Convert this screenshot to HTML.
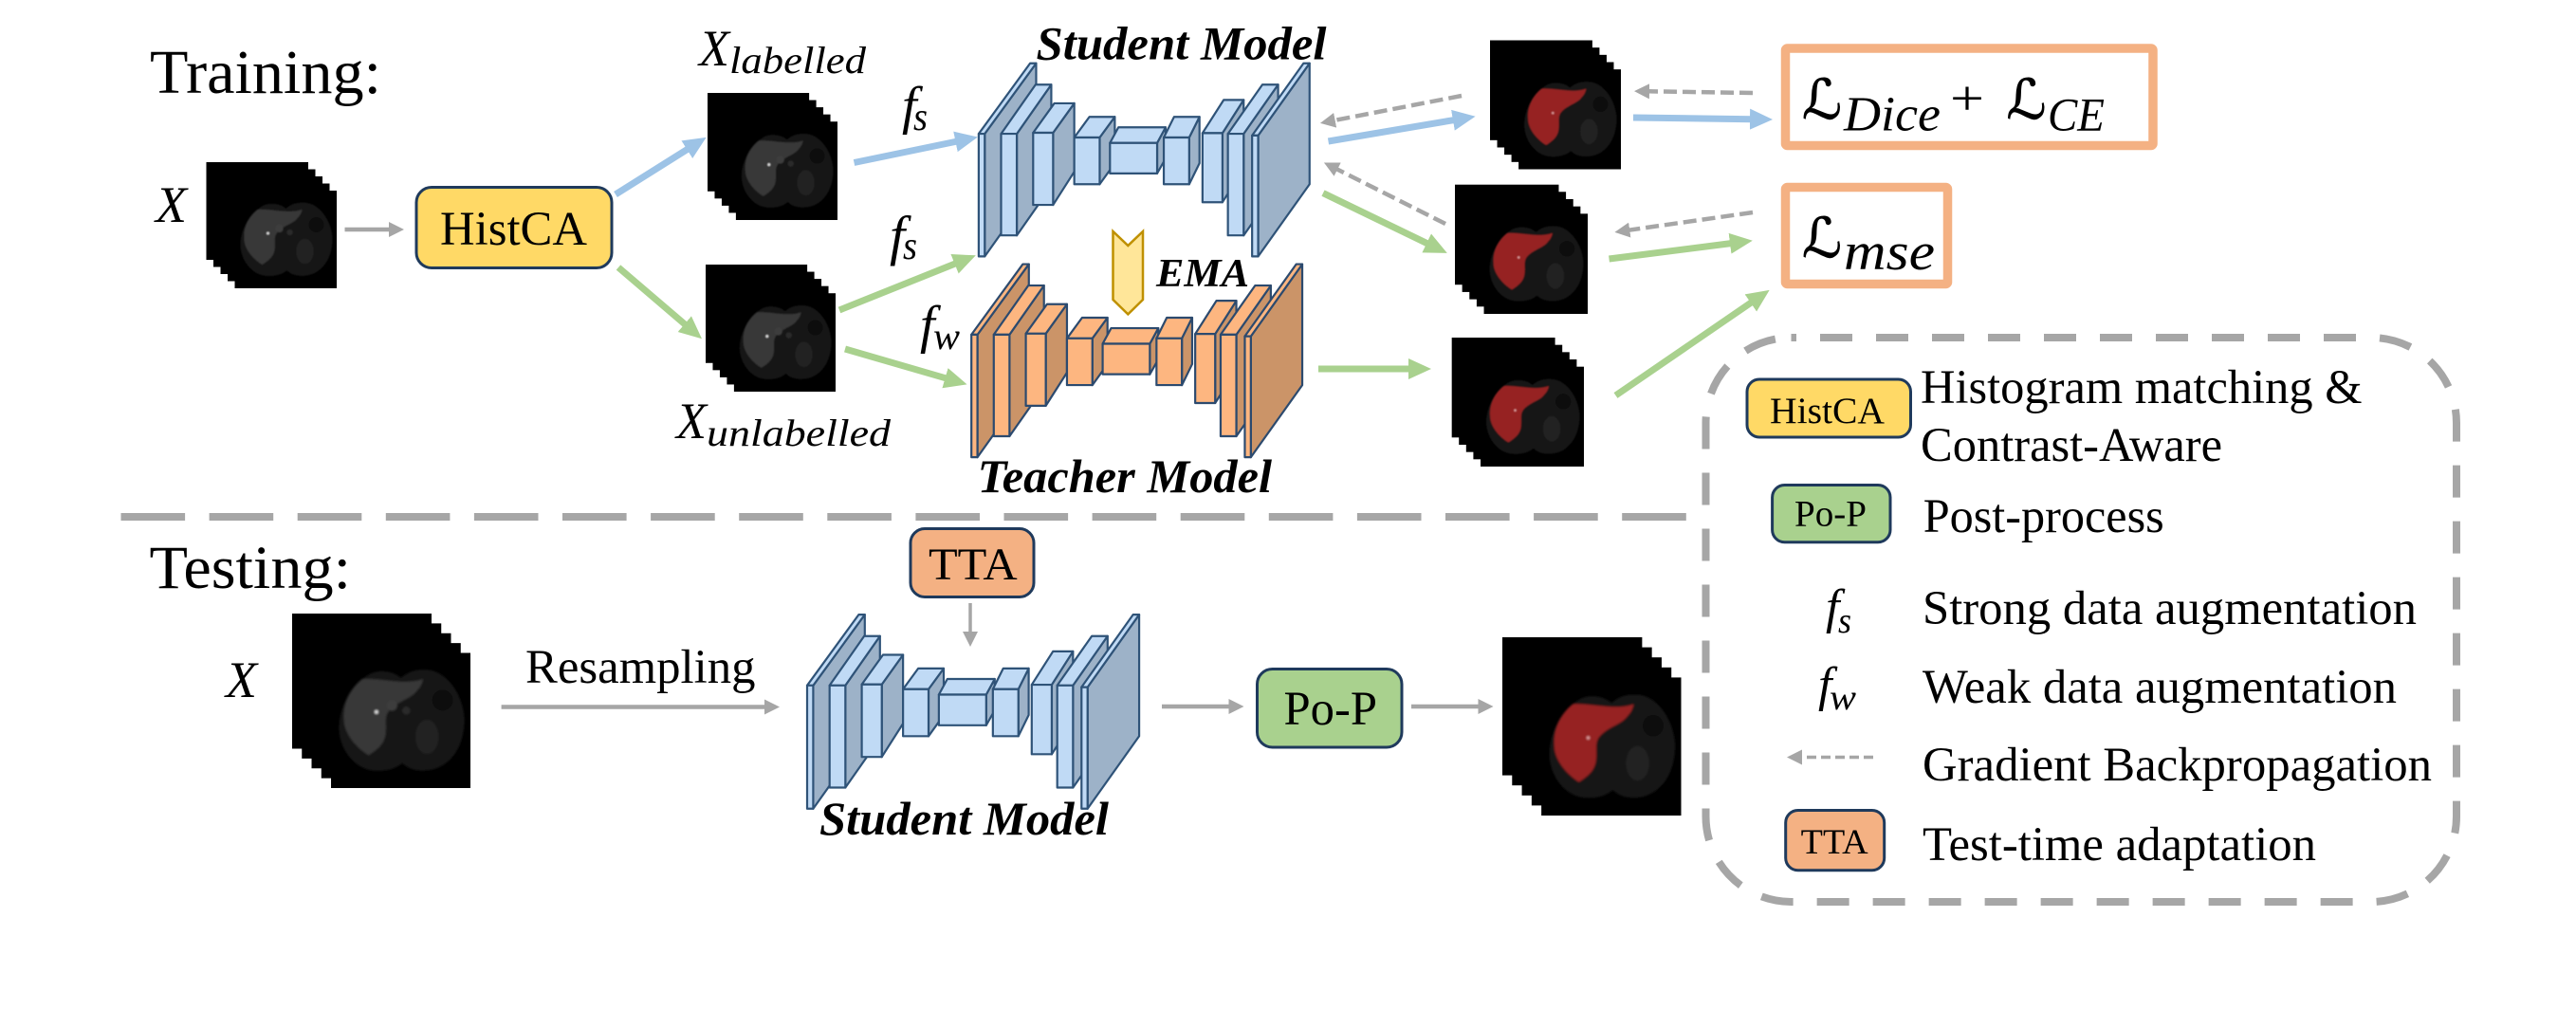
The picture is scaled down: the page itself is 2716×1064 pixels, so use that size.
<!DOCTYPE html>
<html><head><meta charset="utf-8"><style>
html,body{margin:0;padding:0;background:#fff}
svg{display:block}
.t{font-family:"Liberation Serif",serif;fill:#000}
.i{font-style:italic}
.bi{font-style:italic;font-weight:bold}
.L{font-family:"DejaVu Serif","DejaVu Sans",serif;font-style:italic;fill:#000;stroke:#000;stroke-width:.8}
.f{fill:var(--f);stroke:var(--st);stroke-width:2.2;stroke-linejoin:round;vector-effect:non-scaling-stroke}
.s{fill:var(--s);stroke:var(--st);stroke-width:2.2;stroke-linejoin:round;vector-effect:non-scaling-stroke}
.blue{--f:#C0DAF5;--s:#9DB2C8;--st:#2F5378}
.orange{--f:#FDB680;--s:#CB9468;--st:#2C4A6E}
.box{stroke:#1F3A5C;stroke-width:3}
.ab{stroke:#9DC3E6;stroke-width:7;fill:none;marker-end:url(#mb)}
.ag{stroke:#A9D18E;stroke-width:7;fill:none;marker-end:url(#mg)}
.gd{stroke:#A6A6A6;stroke-width:4.5;stroke-dasharray:14 6;fill:none;marker-end:url(#md)}
.gs{stroke:#A6A6A6;stroke-width:4.5;fill:none;marker-end:url(#ms)}
</style></head><body>
<svg xmlns="http://www.w3.org/2000/svg" width="2716" height="1064" viewBox="0 0 2716 1064">
<defs>
<marker id="mb" markerUnits="userSpaceOnUse" markerWidth="26" markerHeight="24" refX="2" refY="12" orient="auto"><path d="M0 1L24 12L0 23Z" fill="#9DC3E6"/></marker>
<marker id="mg" markerUnits="userSpaceOnUse" markerWidth="26" markerHeight="24" refX="2" refY="12" orient="auto"><path d="M0 1L24 12L0 23Z" fill="#A9D18E"/></marker>
<marker id="md" markerUnits="userSpaceOnUse" markerWidth="18" markerHeight="18" refX="1" refY="9" orient="auto"><path d="M0 1L16 9L0 17Z" fill="#A6A6A6"/></marker>
<marker id="ms" markerUnits="userSpaceOnUse" markerWidth="18" markerHeight="18" refX="1" refY="9" orient="auto"><path d="M0 1L16 9L0 17Z" fill="#A6A6A6"/></marker>
<filter id="b" x="-10%" y="-10%" width="120%" height="120%"><feGaussianBlur stdDeviation="0.8"/></filter>

<g id="layers">
<rect x="0" y="0" width="107.5" height="103" fill="#000"/>
<rect x="7.5" y="7.5" width="107.5" height="103" fill="#000"/>
<rect x="15" y="15" width="107.5" height="103" fill="#000"/>
<rect x="22.5" y="22.5" width="107.5" height="103" fill="#000"/>
<rect x="30" y="30" width="107.5" height="103" fill="#000"/>
</g>
<path id="bodyp" d="M54 19C48 14 38 12 30 16C15 24 6 42 6 58C7 76 20 90 36 90C44 90 50 88 55 84C60 89 68 91 78 89C94 85 103 70 103 50C102 34 92 16 76 13C66 12 60 14 54 19Z"/>
<path id="liverp" d="M71 20C56 25 40 19 24 20C15 27 9 38 10 51C10 61 19 72 29 78C35 74 41 70 42 62C43 54 41 50 44 45C50 37 62 35 66 29C69 26 70 24 71 20Z"/>

<symbol id="sg" viewBox="0 0 137.5 133" preserveAspectRatio="none">
<use href="#layers"/>
<g transform="translate(30,30)" filter="url(#b)">
<use href="#bodyp" fill="#191919"/>
<circle cx="86" cy="36" r="8" fill="#080808"/>
<ellipse cx="74" cy="64" rx="9" ry="13" fill="#242424"/>
<use href="#liverp" fill="#383838"/>
<circle cx="47" cy="40" r="4" fill="#3c3c3c"/>
<circle cx="58" cy="44" r="3" fill="#2c2c2c"/>
<circle cx="35" cy="45" r="1.4" fill="#ddd"/>
</g>
</symbol>
<symbol id="sr" viewBox="0 0 137.5 133" preserveAspectRatio="none">
<use href="#layers"/>
<g transform="translate(30,30)" filter="url(#b)">
<use href="#bodyp" fill="#181818"/>
<circle cx="86" cy="36" r="8" fill="#070707"/>
<ellipse cx="74" cy="64" rx="9" ry="13" fill="#202020"/>
<use href="#liverp" fill="#962222"/>
<circle cx="36" cy="45" r="1.2" fill="#e0a0a0"/>
</g>
</symbol>

<g id="unet">
<polygon class="s" points="60,395 145,187 145,544 60,757"/><polygon class="f" points="50,395 135,187 145,187 60,395"/><polygon class="f" points="50,395 60,395 60,757 50,757"/>
<polygon class="s" points="113,395 170,250 170,550 113,695"/><polygon class="f" points="87,395 144,250 170,250 113,395"/><polygon class="f" points="87,395 113,395 113,695 87,695"/>
<polygon class="s" points="173,392 208,305 208,507 173,605"/><polygon class="f" points="140,392 175,305 208,305 173,392"/><polygon class="f" points="140,392 173,392 173,605 140,605"/>
<polygon class="s" points="250,406 275,345 275,482 250,544"/><polygon class="f" points="208,406 233,345 275,345 250,406"/><polygon class="f" points="208,406 250,406 250,544 208,544"/>
<polygon class="s" points="345,422 359,376 359,468 345,512"/><polygon class="f" points="267,422 281,376 359,376 345,422"/><polygon class="f" points="267,422 345,422 345,512 267,512"/>
<polygon class="s" points="398,406 415,345 415,482 398,544"/><polygon class="f" points="356,406 373,345 415,345 398,406"/><polygon class="f" points="356,406 398,406 398,544 356,544"/>
<polygon class="s" points="453,393 488,295 488,499 453,597"/><polygon class="f" points="420,393 455,295 488,295 453,393"/><polygon class="f" points="420,393 453,393 453,597 420,597"/>
<polygon class="s" points="488,395 545,250 545,550 488,695"/><polygon class="f" points="462,395 519,250 545,250 488,395"/><polygon class="f" points="462,395 488,395 488,695 462,695"/>
<polygon class="s" points="512,400 597,187 597,544 512,757"/><polygon class="f" points="502,400 587,187 597,187 512,400"/><polygon class="f" points="502,400 512,400 512,757 502,757"/>
</g>
</defs>

<rect width="2716" height="1064" fill="#fff"/>

<!-- section labels -->
<text class="t" x="158" y="98" font-size="66" textLength="244" lengthAdjust="spacingAndGlyphs">Training:</text>
<text class="t" x="157.5" y="620" font-size="65" textLength="212.5" lengthAdjust="spacingAndGlyphs">Testing:</text>

<!-- stacks -->
<use href="#sg" x="217.5" y="171" width="137.5" height="133"/>
<use href="#sg" x="746" y="98" width="137" height="134"/>
<use href="#sg" x="744" y="279" width="137" height="134"/>
<use href="#sr" x="1571" y="42.5" width="138" height="136"/>
<use href="#sr" x="1534" y="194.6" width="140" height="136.4"/>
<use href="#sr" x="1530.6" y="356" width="139.4" height="136"/>
<use href="#sg" x="308" y="647" width="188" height="184"/>
<use href="#sr" x="1584" y="672" width="188.5" height="188"/>

<!-- X labels -->
<text class="t i" x="164" y="234" font-size="54" textLength="33" lengthAdjust="spacingAndGlyphs">X</text>
<text class="t i" x="737" y="69" font-size="54" textLength="32" lengthAdjust="spacingAndGlyphs">X</text>
<text class="t i" x="769" y="77" font-size="40" textLength="144" lengthAdjust="spacingAndGlyphs">labelled</text>
<text class="t i" x="713" y="462" font-size="54" textLength="32" lengthAdjust="spacingAndGlyphs">X</text>
<text class="t i" x="745" y="470" font-size="40" textLength="194" lengthAdjust="spacingAndGlyphs">unlabelled</text>
<text class="t i" x="238" y="735" font-size="54" textLength="33" lengthAdjust="spacingAndGlyphs">X</text>

<!-- f labels -->
<text class="t i" x="951" y="130" font-size="56">f</text><text class="t i" x="963" y="137" font-size="42" textLength="15" lengthAdjust="spacingAndGlyphs">s</text>
<text class="t i" x="938" y="268" font-size="58">f</text><text class="t i" x="952" y="273" font-size="42" textLength="15" lengthAdjust="spacingAndGlyphs">s</text>
<text class="t i" x="970" y="361" font-size="56">f</text><text class="t i" x="984" y="368" font-size="40" textLength="28" lengthAdjust="spacingAndGlyphs">w</text>

<!-- boxes -->
<rect class="box" x="439" y="197.5" width="206" height="85" rx="16" fill="#FFD966"/>
<text class="t" x="464" y="258" font-size="51" textLength="155" lengthAdjust="spacingAndGlyphs">HistCA</text>
<rect class="box" x="960" y="557.5" width="130" height="72" rx="15" fill="#F4B183"/>
<text class="t" x="979" y="611" font-size="48" textLength="93.6" lengthAdjust="spacingAndGlyphs">TTA</text>
<rect class="box" x="1325.5" y="705.5" width="152.5" height="82.5" rx="16" fill="#A9D18E"/>
<text class="t" x="1353.5" y="764" font-size="50.5" textLength="98.5" lengthAdjust="spacingAndGlyphs">Po-P</text>
<text class="t" x="554" y="720" font-size="50.5" textLength="242.5" lengthAdjust="spacingAndGlyphs">Resampling</text>

<!-- U-nets -->
<g class="blue"><use href="#unet" transform="translate(1000,0) scale(.63776,.35714)"/></g>
<g class="orange"><use href="#unet" transform="translate(992.3,211.8) scale(.63776,.35714)"/></g>
<g class="blue"><use href="#unet" transform="translate(819,581) scale(.6400,.3590)"/></g>

<text class="t bi" x="1092.5" y="62.5" font-size="50" textLength="306" lengthAdjust="spacingAndGlyphs">Student Model</text>
<text class="t bi" x="1030.6" y="519" font-size="50" textLength="310.4" lengthAdjust="spacingAndGlyphs">Teacher Model</text>
<text class="t bi" x="864" y="880" font-size="50" textLength="305" lengthAdjust="spacingAndGlyphs">Student Model</text>
<text class="t bi" x="1219" y="302" font-size="42" textLength="98" lengthAdjust="spacingAndGlyphs">EMA</text>

<!-- EMA arrow -->
<polygon points="1173.5,244 1189.3,259 1205,244 1205,316 1189.3,331.4 1173.5,316" fill="#FFE699" stroke="#BF9000" stroke-width="2.5"/>

<!-- gray solid arrows -->
<line class="gs" x1="363.5" y1="242" x2="411" y2="242"/>
<line class="gs" x1="528.6" y1="745.5" x2="807" y2="745.5"/>
<line class="gs" x1="1023" y1="636" x2="1023" y2="667" style="stroke-width:3.5"/>
<line class="gs" x1="1225" y1="745" x2="1296.5" y2="745"/>
<line class="gs" x1="1488" y1="745" x2="1559.5" y2="745"/>

<!-- colored arrows -->
<line class="ab" x1="649" y1="205" x2="726" y2="156.6"/>
<line class="ag" x1="652" y1="282" x2="723.3" y2="343"/>
<line class="ab" x1="900.5" y1="171.5" x2="1009.4" y2="149"/>
<line class="ag" x1="885" y1="327" x2="1008.4" y2="277.5"/>
<line class="ag" x1="891" y1="368" x2="998.4" y2="399.2"/>
<line class="ab" x1="1400.5" y1="149" x2="1533.9" y2="126.4"/>
<line class="ag" x1="1395" y1="203.6" x2="1506" y2="257.3"/>
<line class="ag" x1="1390" y1="389" x2="1487" y2="389"/>
<line class="ab" x1="1722" y1="124" x2="1847" y2="125.7"/>
<line class="ag" x1="1696.5" y1="273" x2="1826" y2="256.5"/>
<line class="ag" x1="1703.5" y1="417" x2="1847.5" y2="318.3"/>

<!-- dashed gray arrows -->
<line class="gd" x1="1541" y1="101" x2="1406.7" y2="127"/>
<line class="gd" x1="1524" y1="236" x2="1409.3" y2="178.2"/>
<line class="gd" x1="1848" y1="98" x2="1738" y2="96.3"/>
<line class="gd" x1="1848" y1="224" x2="1717.3" y2="242.7"/>

<!-- loss boxes -->
<rect x="1882.5" y="51" width="387.5" height="102.5" rx="2" fill="#fff" stroke="#F4B183" stroke-width="9.5"/>
<rect x="1882.5" y="197.5" width="171" height="102" rx="2" fill="#fff" stroke="#F4B183" stroke-width="9.5"/>
<text class="L" x="1900" y="125" font-size="58" textLength="42" lengthAdjust="spacingAndGlyphs">ℒ</text>
<text class="t i" x="1944" y="137.5" font-size="52" textLength="102" lengthAdjust="spacingAndGlyphs">Dice</text>
<text class="t" x="2056" y="121" font-size="52" textLength="36" lengthAdjust="spacingAndGlyphs">+</text>
<text class="L" x="2115.5" y="125" font-size="58" textLength="42" lengthAdjust="spacingAndGlyphs">ℒ</text>
<text class="t i" x="2159" y="137.5" font-size="50" textLength="60" lengthAdjust="spacingAndGlyphs">CE</text>
<text class="L" x="1900" y="271" font-size="58" textLength="42" lengthAdjust="spacingAndGlyphs">ℒ</text>
<text class="t i" x="1944" y="284" font-size="56" textLength="96" lengthAdjust="spacingAndGlyphs">mse</text>

<!-- separators -->
<line x1="127.5" y1="545" x2="1778" y2="545" stroke="#A6A6A6" stroke-width="8" stroke-dasharray="67.6 25.5"/>
<rect x="1798.5" y="356" width="791.5" height="595" rx="90" ry="90" fill="none" stroke="#A6A6A6" stroke-width="8" stroke-dasharray="34 25" stroke-dashoffset="-30.5"/>

<!-- legend -->
<rect class="box" x="1842" y="400" width="172.5" height="61" rx="13" fill="#FFD966"/>
<text class="t" x="1866" y="446" font-size="39.6" textLength="121" lengthAdjust="spacingAndGlyphs">HistCA</text>
<rect class="box" x="1868.6" y="511.5" width="124.4" height="60.2" rx="13" fill="#A9D18E"/>
<text class="t" x="1892" y="554.4" font-size="39" textLength="76" lengthAdjust="spacingAndGlyphs">Po-P</text>
<rect class="box" x="1882.7" y="854.5" width="104" height="63.2" rx="13" fill="#F4B183"/>
<text class="t" x="1898.7" y="900" font-size="37" textLength="71" lengthAdjust="spacingAndGlyphs">TTA</text>

<text class="t i" x="1925" y="657" font-size="52">f</text><text class="t i" x="1938" y="667" font-size="38" textLength="14" lengthAdjust="spacingAndGlyphs">s</text>
<text class="t i" x="1917" y="739" font-size="52">f</text><text class="t i" x="1929" y="748" font-size="38" textLength="28" lengthAdjust="spacingAndGlyphs">w</text>
<line class="gs" x1="1975" y1="798.5" x2="1899" y2="798.5" style="stroke-dasharray:10 5;stroke-width:3.5"/>

<text class="t" x="2025" y="425" font-size="50.5" textLength="465.5" lengthAdjust="spacingAndGlyphs">Histogram matching &amp;</text>
<text class="t" x="2025" y="486" font-size="50.5" textLength="318" lengthAdjust="spacingAndGlyphs">Contrast-Aware</text>
<text class="t" x="2027.7" y="561" font-size="50.5" textLength="254" lengthAdjust="spacingAndGlyphs">Post-process</text>
<text class="t" x="2027" y="658" font-size="50.5" textLength="521" lengthAdjust="spacingAndGlyphs">Strong data augmentation</text>
<text class="t" x="2027" y="741" font-size="50.5" textLength="500" lengthAdjust="spacingAndGlyphs">Weak data augmentation</text>
<text class="t" x="2027" y="823" font-size="50.5" textLength="537" lengthAdjust="spacingAndGlyphs">Gradient Backpropagation</text>
<text class="t" x="2027" y="907" font-size="50.5" textLength="415" lengthAdjust="spacingAndGlyphs">Test-time adaptation</text>
</svg>
</body></html>
